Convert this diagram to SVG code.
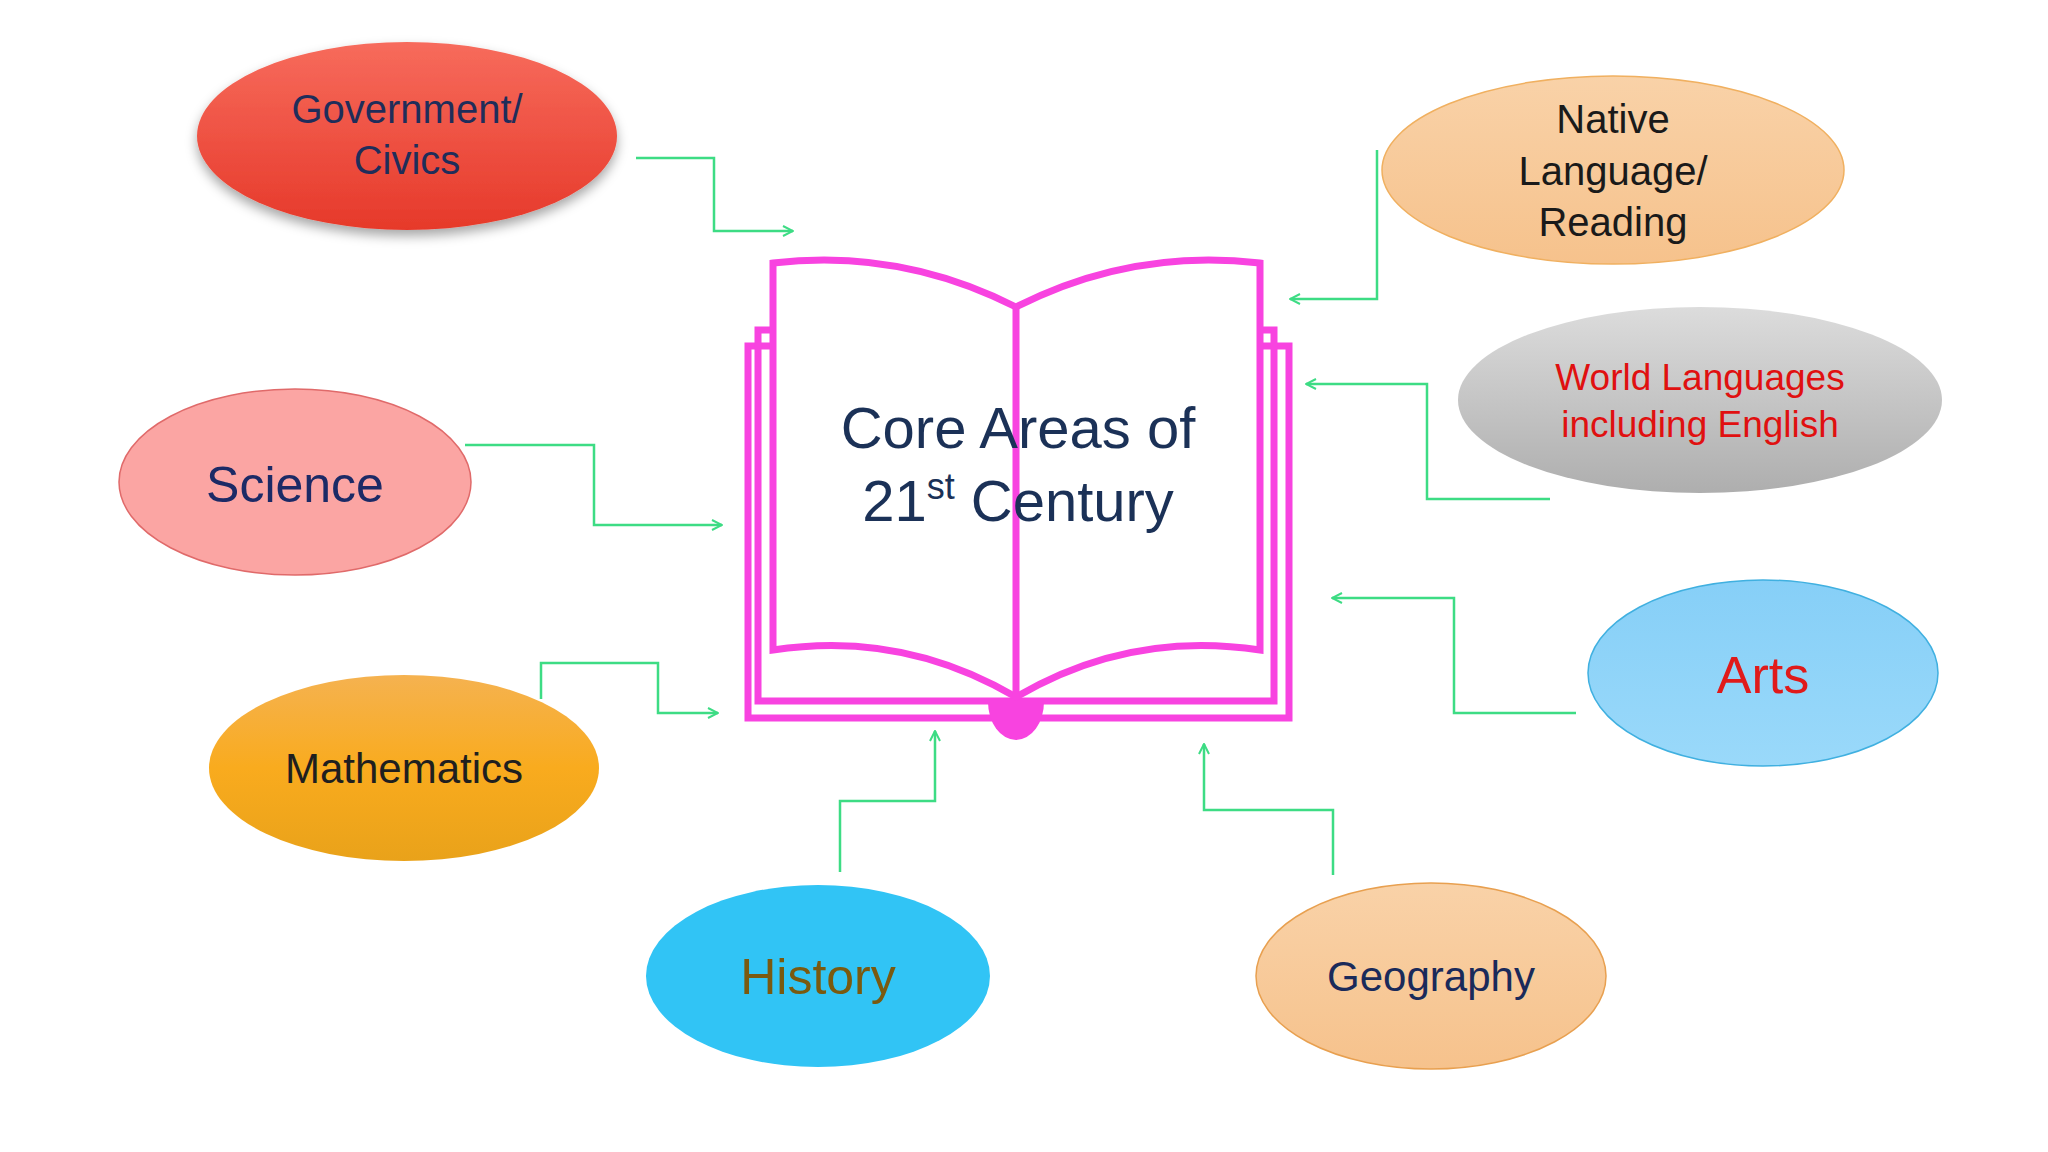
<svg xmlns="http://www.w3.org/2000/svg" width="2048" height="1152" viewBox="0 0 2048 1152">
<style>
.c{fill:none;stroke:#3ddc84;stroke-width:2.5;marker-end:url(#ar)}
.b{fill:none;stroke:#f843e0;stroke-width:7;stroke-linejoin:miter}
text{font-family:"Liberation Sans",Arial,sans-serif;text-anchor:middle}
</style>
<defs>
<marker id="ar" viewBox="0 0 12 12" refX="11" refY="6" markerWidth="12" markerHeight="12" markerUnits="userSpaceOnUse" orient="auto"><path d="M1,1 L11,6 L1,11" fill="none" stroke="#3ddc84" stroke-width="2"/></marker>
<linearGradient id="gRed" x1="0" y1="0" x2="0" y2="1"><stop offset="0" stop-color="#f76b5c"/><stop offset="1" stop-color="#e6392a"/></linearGradient>
<linearGradient id="gGray" x1="0" y1="0" x2="0" y2="1"><stop offset="0" stop-color="#dcdcdc"/><stop offset="1" stop-color="#aeaeae"/></linearGradient>
<linearGradient id="gOr" x1="0" y1="0" x2="0" y2="1"><stop offset="0" stop-color="#f5b250"/><stop offset="0.5" stop-color="#f9ab1e"/><stop offset="1" stop-color="#e9a21a"/></linearGradient>
<linearGradient id="gPeach" x1="0" y1="0" x2="0" y2="1"><stop offset="0" stop-color="#f9d2a8"/><stop offset="1" stop-color="#f6c28c"/></linearGradient>
<linearGradient id="gBlue" x1="0" y1="0" x2="0" y2="1"><stop offset="0" stop-color="#86cff7"/><stop offset="1" stop-color="#9ad9fa"/></linearGradient>
<filter id="sh" x="-20%" y="-20%" width="140%" height="150%"><feDropShadow dx="0" dy="6" stdDeviation="6" flood-color="#000" flood-opacity="0.35"/></filter>
</defs>
<rect width="2048" height="1152" fill="#fff"/>
<g id="connectors">
<polyline class="c" points="636,158 714,158 714,231 793,231"/>
<polyline class="c" points="1377,150 1377,299 1290,299"/>
<polyline class="c" points="1550,499 1427,499 1427,384 1306,384"/>
<polyline class="c" points="465,445 594,445 594,525 722,525"/>
<polyline class="c" points="1576,713 1454,713 1454,598 1332,598"/>
<polyline class="c" points="541,699 541,663 658,663 658,713 718,713"/>
<polyline class="c" points="840,872 840,801 935,801 935,731"/>
<polyline class="c" points="1333,875 1333,810 1204,810 1204,744"/>
</g>
<g id="book">
<path class="b" d="M773,346 H748 V718 H1289 V346 H1260"/>
<path class="b" d="M773,330 H758 V701 H1274 V330 H1260"/>
<path class="b" d="M773,650 V263 Q900,248 1016,307 Q1132,248 1260,263 V650 Q1130,630 1016,697 Q902,630 773,650 Z" fill="#fff"/>
<line class="b" x1="1016" y1="307" x2="1016" y2="697"/>
<path d="M988,702 H1044 A28,38 0 0 1 988,702 Z" fill="#f843e0"/>
<text x="1018" y="448" font-size="58" fill="#1b3157">Core Areas of</text>
<text x="1018" y="521" font-size="58" fill="#1b3157">21<tspan font-size="36" dy="-22">st</tspan><tspan dy="22"> Century</tspan></text>
</g>
<g id="gov"><ellipse cx="407" cy="136" rx="210" ry="94" fill="url(#gRed)" filter="url(#sh)"/>
<text x="407" y="123" font-size="40" fill="#1f2d5a">Government/</text><text x="407" y="174" font-size="40" fill="#1f2d5a">Civics</text></g>
<g id="native"><ellipse cx="1613" cy="170" rx="231" ry="94" fill="url(#gPeach)" stroke="#f0b060" stroke-width="1.5"/>
<text x="1613" y="133" font-size="40" fill="#1a1a1a">Native</text><text x="1613" y="185" font-size="40" fill="#1a1a1a">Language/</text><text x="1613" y="236" font-size="40" fill="#1a1a1a">Reading</text></g>
<g id="world"><ellipse cx="1700" cy="400" rx="242" ry="93" fill="url(#gGray)"/>
<text x="1700" y="390" font-size="37" fill="#e01010">World Languages</text><text x="1700" y="437" font-size="37" fill="#e01010">including English</text></g>
<g id="science"><ellipse cx="295" cy="482" rx="176" ry="93" fill="#fba5a3" stroke="#e06a6a" stroke-width="1.5"/>
<text x="295" y="502" font-size="50" fill="#1c2a66">Science</text></g>
<g id="arts"><ellipse cx="1763" cy="673" rx="175" ry="93" fill="url(#gBlue)" stroke="#40b0e0" stroke-width="1.5"/>
<text x="1763" y="693" font-size="52" fill="#e01a1a">Arts</text></g>
<g id="math"><ellipse cx="404" cy="768" rx="195" ry="93" fill="url(#gOr)"/>
<text x="404" y="783" font-size="42" fill="#1f1f1f">Mathematics</text></g>
<g id="history"><ellipse cx="818" cy="976" rx="172" ry="91" fill="#31c4f5"/>
<text x="818" y="994" font-size="50" fill="#7a5a10">History</text></g>
<g id="geo"><ellipse cx="1431" cy="976" rx="175" ry="93" fill="url(#gPeach)" stroke="#e8a050" stroke-width="1.5"/>
<text x="1431" y="991" font-size="42" fill="#1a2a5a">Geography</text></g>
</svg>
